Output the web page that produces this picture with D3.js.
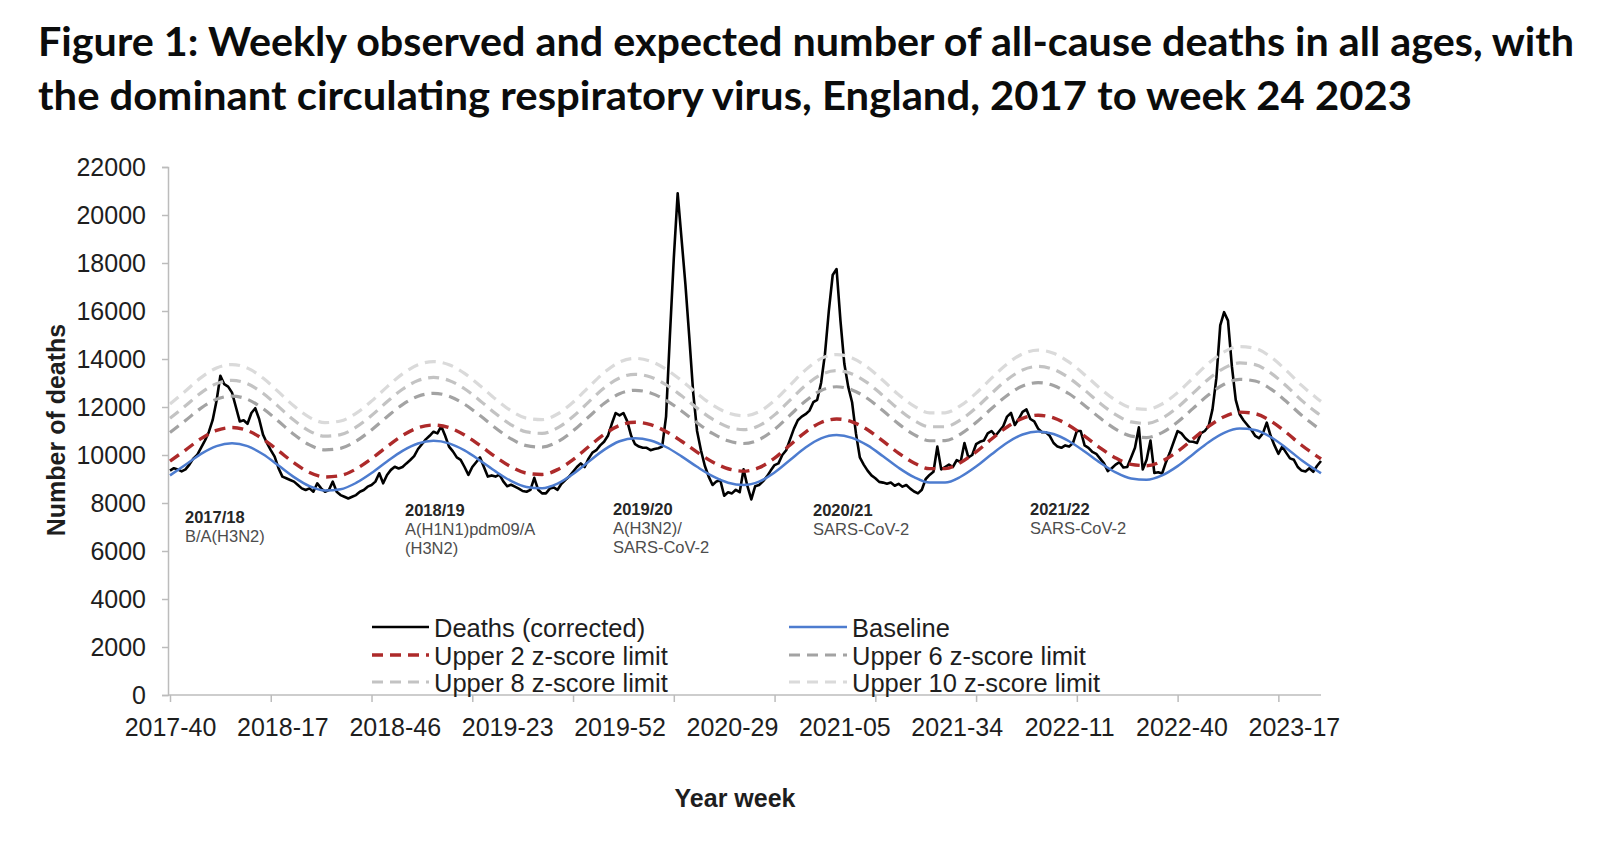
<!DOCTYPE html>
<html><head><meta charset="utf-8">
<script src="https://cdn.jsdelivr.net/npm/d3@7"></script>
<style>body{margin:0;background:#fff}svg{display:block}</style>
</head><body>
<svg id="chart" width="1600" height="845"></svg>
<script>
// ---------------- DATA ----------------
const titleLines = [
  "Figure 1: Weekly observed and expected number of all-cause deaths in all ages, with",
  "the dominant circulating respiratory virus, England, 2017 to week 24 2023"
];
const xTickLabels = ["2017-40","2018-17","2018-46","2019-23","2019-52","2020-29","2021-05","2021-34","2022-11","2022-40","2023-17"];
const yTicks = [0,2000,4000,6000,8000,10000,12000,14000,16000,18000,20000,22000];
const xAxisTitle = "Year week";
const yAxisTitle = "Number of deaths";

// weekly deaths, week index 0 = 2017-40 ... 297 = 2023-24
const deaths = [
  9350, 9450, 9400, 9320, 9400, 9600, 9850,10000,10300,10600,
 10950,11450,12250,13300,12950,12850,12600,12000,11400,11450,
 11300,11750,11950,11500,10850,10500,10200, 9930, 9450, 9100,
  9030, 8960, 8890, 8750, 8610, 8540, 8610, 8470, 8820, 8610,
  8470, 8540, 8890, 8470, 8330, 8260, 8190, 8260, 8330, 8470,
  8540, 8680, 8750, 8890, 9240, 8820, 9170, 9380, 9510, 9440,
  9500, 9650, 9790, 9950,10250,10450,10650,10800,10970,10900,
 11200,10800,10350,10150, 9900, 9800, 9500, 9170, 9500, 9700,
  9900, 9500, 9100, 9150, 9100, 9180, 8900, 8700, 8760, 8680,
  8600, 8500, 8470, 8550, 9050, 8550, 8400, 8400, 8600, 8650,
  8550, 8800, 8960, 9100, 9300, 9500, 9650, 9500, 9850,10100,
 10200,10400,10550,10800,11300,11750,11650,11750,11400,10800,
 10450,10350,10300,10300,10200,10250,10280,10350,11600,15000,
 18200,20900,19000,17100,14900,12600,11000,10200, 9550, 9100,
  8750, 8900, 8950, 8300, 8450, 8400, 8550, 8450, 9400, 8700,
  8150, 8700, 8750, 8900, 9100, 9350, 9580, 9650,10000,10200,
 10650,11100,11450,11600,11700,11850,12200,12300,13000,14200,
 16000,17500,17750,15600,13800,12850,12200,10900, 9900, 9600,
  9350, 9150, 9030, 8880, 8850, 8800, 8850, 8720, 8800, 8680,
  8750, 8600, 8480, 8400, 8550, 9000, 9170, 9300,10350, 9400,
  9500, 9600, 9500, 9790, 9700,10500, 9900,10000,10450,10550,
 10600,10900,11000,10800,11000,11200,11600,11750,11250,11500,
 11800,11900,11500,11400,11100,10950,10950,10800,10500,10350,
 10300,10400,10350,10500,11000,11000,10400,10300,10130,10050,
  9850, 9650, 9330, 9450, 9600, 9700, 9480, 9500, 9900,10300,
 11150, 9400, 9800,10600, 9250, 9280, 9230, 9700,10100,10550,
 11000,10900,10700,10560,10550,10500,10900,11000,11200,11900,
 13200,15400,15950,15600,13700,12300,11700,11450,11250,11050,
 10800,10700,10900,11350,10800,10400,10050,10350,10100, 9860,
  9800, 9500, 9350, 9310, 9450, 9300, 9550, 9750
];

// model series sampled every 4 weeks (weeks 0,4,...,296) plus week 297
const baseline = [
  9150, 9592,10047,10372,10490,
 10368,10030, 9562, 9078, 8699,
  8518, 8573, 8835, 9248, 9731,
 10174,10480,10590,10485,10190,
  9772, 9317, 8921, 8669, 8618,
  8810, 9210, 9721,10215,10573,
 10700,10603,10333, 9943, 9508,
  9117, 8846, 8750, 8889, 9270,
  9790,10310,10691,10830,10715,
 10398, 9946, 9469, 9075, 8850,
  8852, 9094, 9518,10030,10511,
 10855,10980,10873,10572,10146,
  9681, 9277, 9021, 8968, 9150,
  9536,10035,10534,10921,11101,
 11041,10750,10296, 9782, 9341,
  9240
];
const upper2 = [
  9745,10207,10683,11022,11146,
 11018,10665,10176, 9670, 9273,
  9084, 9142, 9416, 9847,10352,
 10815,11135,11250,11141,10832,
 10395, 9920, 9506, 9242, 9189,
  9390, 9808,10342,10858,11233,
 11365,11264,10982,10574,10119,
  9710, 9427, 9327, 9472, 9870,
 10414,10958,11356,11501,11381,
 11050,10577,10078, 9667, 9431,
  9433, 9686,10130,10665,11168,
 11527,11658,11546,11232,10786,
 10300, 9878, 9610, 9555, 9745,
 10148,10670,11192,11596,11785,
 11722,11418,10943,10406, 9945,
  9839
];
const upper6 = [
 10935,11437,11954,12323,12457,
 12319,11935,11403,10853,10422,
 10217,10279,10577,11046,11595,
 12098,12446,12571,12452,12117,
 11642,11125,10675,10389,10330,
 10549,11003,11583,12145,12552,
 12696,12586,12279,11836,11342,
 10897,10590,10480,10639,11071,
 11662,12253,12686,12844,12713,
 12353,11840,11297,10850,10594,
 10596,10871,11353,11935,12481,
 12872,13014,12893,12551,12067,
 11538,11079,10789,10728,10935,
 11373,11941,12508,12947,13152,
 13083,12753,12237,11653,11152,
 11037
];
const upper8 = [
 11530,12052,12589,12974,13113,
 12969,12570,12016,11445,10997,
 10783,10848,11157,11646,12217,
 12740,13102,13232,13107,12759,
 12265,11727,11259,10962,10901,
 11128,11600,12204,12789,13211,
 13362,13247,12927,12467,11953,
 11491,11171,11057,11222,11672,
 12286,12900,13351,13515,13379,
 13004,12471,11907,11441,11176,
 11178,11464,11964,12570,13138,
 13545,13692,13566,13210,12707,
 12157,11680,11378,11315,11530,
 11986,12576,13166,13623,13835,
 13764,13420,12884,12276,11755,
 11636
];
const upper10 = [
 12125,12667,13225,13624,13769,
 13619,13205,12630,12037,11571,
 11349,11417,11738,12245,12838,
 13381,13757,13892,13763,13401,
 12888,12330,11844,11535,11472,
 11708,12198,12825,13432,13871,
 14027,13908,13576,13098,12564,
 12084,11752,11634,11805,12272,
 12910,13548,14016,14186,14045,
 13656,13102,12516,12033,11757,
 11759,12056,12576,13205,13795,
 14217,14370,14239,13870,13347,
 12776,12281,11967,11902,12125,
 12598,13211,13824,14298,14519,
 14445,14088,13531,12900,12359,
 12235
];
const seriesNames = ["Deaths (corrected)","Baseline","Upper 2 z-score limit","Upper 6 z-score limit","Upper 8 z-score limit","Upper 10 z-score limit"];
const seasonHeads = ["2017/18","2018/19","2019/20","2020/21","2021/22"];
const seasonViruses = [["B/A(H3N2)"],["A(H1N1)pdm09/A","(H3N2)"],["A(H3N2)/","SARS-CoV-2"],["SARS-CoV-2"],["SARS-CoV-2"]];

// ---------------- LAYOUT ----------------
const svg = d3.select("#chart");
const nWeeks = deaths.length;              // 298
const labelStep = 29, tickMarkStep = 26;
const limitWeeks = d3.range(0, nWeeks - 1, 4).concat([nWeeks - 1]);

const x = d3.scaleLinear().domain([0, nWeeks - 1]).range([170, 1321]);
const y = d3.scaleLinear().domain([0, 22000]).range([695, 167]);

const axisColor = "#bcbcbc";
const tickFont = "'Liberation Sans', Arial, sans-serif";

// title
const titleBase = [56, 110];
const titleWidth = [1536, 1374];
titleLines.forEach((t, i) => {
  svg.append("text").attr("x", 38).attr("y", titleBase[i])
    .attr("font-family", "Lato, 'Noto Sans', sans-serif").attr("font-weight", 700)
    .attr("font-size", 41).attr("fill", "#0b0c0c")
    .attr("textLength", titleWidth[i]).attr("lengthAdjust", "spacingAndGlyphs")
    .text(t);
});

// y axis
const yAxis = svg.append("g").attr("transform", "translate(168,0)")
  .call(d3.axisLeft(y).tickValues(yTicks).tickSize(6).tickPadding(16).tickFormat(d3.format("d")));
yAxis.select(".domain").attr("stroke", axisColor).attr("stroke-width", 1.5);
yAxis.selectAll(".tick line").attr("stroke", axisColor).attr("stroke-width", 1.5);
yAxis.selectAll("text").attr("font-family", tickFont).attr("font-size", 25).attr("fill", "#1e1e1e");

// x axis: tick marks every 26 weeks, labels every 29 weeks
const xMarks = svg.append("g").attr("transform", "translate(0,695)")
  .call(d3.axisBottom(x).tickValues(d3.range(0, nWeeks, tickMarkStep)).tickSize(7).tickFormat(""));
xMarks.select(".domain").attr("stroke", axisColor).attr("stroke-width", 1.5).attr("d", `M168,0H${x(nWeeks-1)}`);
xMarks.selectAll(".tick line").attr("stroke", axisColor).attr("stroke-width", 1.5);

const xLabels = svg.append("g").attr("transform", "translate(0,695)")
  .call(d3.axisBottom(x).tickValues(xTickLabels.map((d, i) => i * labelStep)).tickSize(0).tickPadding(23)
    .tickFormat((d, i) => xTickLabels[i]));
xLabels.select(".domain").remove();
xLabels.selectAll("text").attr("font-family", tickFont).attr("font-size", 25).attr("fill", "#1e1e1e");

// axis titles
svg.append("text").attr("x", 735).attr("y", 807).attr("text-anchor", "middle")
  .attr("font-family", tickFont).attr("font-weight", 700).attr("font-size", 25).attr("fill", "#1e1e1e")
  .text(xAxisTitle);
svg.append("text").attr("transform", "translate(65,430) rotate(-90)").attr("text-anchor", "middle")
  .attr("font-family", tickFont).attr("font-weight", 700).attr("font-size", 25).attr("fill", "#1e1e1e")
  .text(yAxisTitle);

// season annotations
const notePos = [[185, 523], [405, 516], [613, 515], [813, 516], [1030, 515]];
seasonHeads.forEach((h, i) => {
  const g = svg.append("g");
  g.append("text").attr("x", notePos[i][0]).attr("y", notePos[i][1])
    .attr("font-family", tickFont).attr("font-weight", 700).attr("font-size", 16.5).attr("fill", "#262626").text(h);
  seasonViruses[i].forEach((v, j) => {
    g.append("text").attr("x", notePos[i][0]).attr("y", notePos[i][1] + 19 * (j + 1))
      .attr("font-family", tickFont).attr("font-size", 16.5).attr("fill", "#4d4d4d").text(v);
  });
});

// series
const styles = [
  {stroke: "#000000", width: 2.6, dash: null},
  {stroke: "#4d7ccf", width: 2.5, dash: null},
  {stroke: "#ad2a2a", width: 3.4, dash: "11,7"},
  {stroke: "#a3a3a3", width: 3.2, dash: "11,7"},
  {stroke: "#c3c3c3", width: 3.2, dash: "11,7"},
  {stroke: "#dadada", width: 3.2, dash: "11,7"}
];
const weeklyLine = d3.line().x((d, i) => x(i)).y(d => y(d));
const modelLine = d3.line().x((d, i) => x(limitWeeks[i])).y(d => y(d)).curve(d3.curveMonotoneX);
const seriesData = [deaths, baseline, upper2, upper6, upper8, upper10];
seriesData.forEach((s, k) => {
  const st = styles[k];
  svg.append("path").datum(s)
    .attr("d", k === 0 ? weeklyLine : modelLine)
    .attr("fill", "none").attr("stroke", st.stroke).attr("stroke-width", st.width)
    .attr("stroke-linejoin", "round")
    .attr("stroke-dasharray", st.dash);
});

// legend
const legCols = [[372, 429, 434], [789, 847, 852]];
const legRows = [627, 655, 682];
seriesNames.forEach((n, k) => {
  const c = legCols[k % 2], r = legRows[Math.floor(k / 2)];
  const st = styles[k];
  svg.append("line").attr("x1", c[0]).attr("x2", c[1]).attr("y1", r).attr("y2", r)
    .attr("stroke", st.stroke).attr("stroke-width", st.width).attr("stroke-dasharray", st.dash);
  svg.append("text").attr("x", c[2]).attr("y", r + 9.5)
    .attr("font-family", tickFont).attr("font-size", 25.5).attr("fill", "#1e1e1e").text(n);
});
</script>
</body></html>
